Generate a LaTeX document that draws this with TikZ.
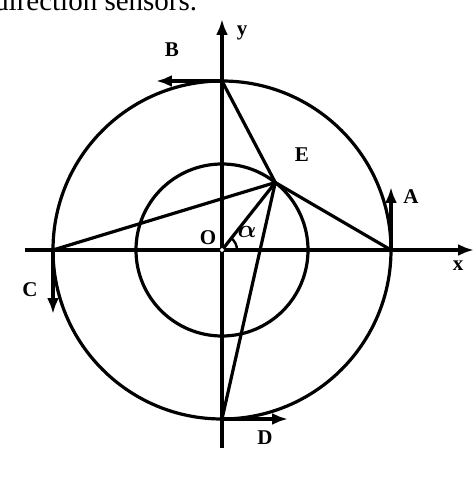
\documentclass[tikz,border=0pt]{standalone}
\usepackage{amsmath,amssymb,bm}
\usepackage{fontspec}
\setmainfont{Liberation Serif}
\usetikzlibrary{arrows.meta}
\begin{document}
\begin{tikzpicture}[x=1pt,y=1pt,
  thick line/.style={line width=3.2pt},
  arr/.style={line width=3.2pt,-{Latex[length=16pt,width=12pt]}},
  lab/.style={font=\bfseries\fontsize{21}{21}\selectfont,inner sep=0pt}]
\useasboundingbox (-222,-229) rectangle (252,250);
% caption fragment
\node[anchor=base west,inner sep=0pt,font=\fontsize{29}{29}\selectfont] (cap) at (-228,239) {direction sensors.};
% points
\coordinate (O) at (0,0);
\coordinate (E) at (51.7:86);
\coordinate (PA) at (169,0);
\coordinate (PB) at (0,169);
\coordinate (PC) at (-169,0);
\coordinate (PD) at (0,-169);
\coordinate (xs) at (-197,0);
\coordinate (xe) at (252,0);
\coordinate (ys) at (0,-198);
\coordinate (ye) at (0,231);
% circles
\draw[thick line] (O) circle (169);
\draw[thick line] (O) circle (86);
% axes
\draw[arr] (xs) -- (xe);
\draw[arr] (ys) -- (ye);
% lines from E
\draw[thick line] (E) -- (PB);
\draw[thick line] (E) -- (PA);
\draw[thick line] (E) -- (PC);
\draw[thick line] (E) -- (PD);
\draw[thick line] (O) -- (E);
% angle arc
\draw[line width=2.4pt] (15,0) arc (0:51.7:15);
% sensor arrows
\coordinate (tA) at (169,63);
\coordinate (tB) at (-66,169);
\coordinate (tC) at (-169,-64);
\coordinate (tD) at (66,-169);
\draw[arr] (PA) -- (tA);
\draw[arr] (PB) -- (tB);
\draw[arr] (PC) -- (tC);
\draw[arr] (PD) -- (tD);
% origin dot
\filldraw[fill=white,draw=black,line width=0.8pt] (O) circle (2.4);
% labels
\node[lab] (lA) at (189,53) {A};
\node[lab] (lB) at (-50,200) {B};
\node[lab] (lC) at (-192,-40) {C};
\node[lab] (lD) at (43,-188) {D};
\node[lab] (lE) at (80,95) {E};
\node[lab] (ly) at (20,217) {y};
\node[lab] (lx) at (236,-16) {x};
\node[lab] (lO) at (-14,12) {O};
\node[inner sep=0pt,font=\fontsize{30}{30}\selectfont] (lal) at (25,18) {$\bm{\alpha}$};
\end{tikzpicture}
\end{document}
